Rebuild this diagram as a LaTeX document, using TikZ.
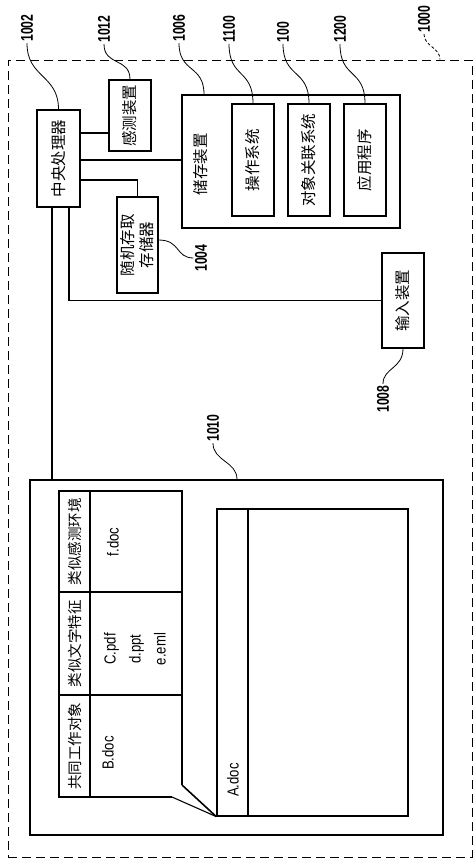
\documentclass[tikz,border=0pt]{standalone}
\usepackage{fontspec}
\setmainfont{Liberation Sans}
\newfontfamily\cjkfont{Noto Sans CJK SC}
\newfontfamily\numfont[FakeStretch=0.72]{Liberation Sans Bold}
\newfontfamily\docfont[FakeStretch=0.82]{Liberation Sans}

\begin{document}
\begin{tikzpicture}[
      x = 1pt, y = -1pt,
      line width = 1.1pt,
      box/.style = {
        draw, rectangle, line width = 1.3pt,
        inner sep = 0
      },
      tag/.style = { rotate = 90, font = {\cjkfont\fontsize{15.5}{19}\selectfont} },
      head/.style = { rotate = 90, font = {\cjkfont\fontsize{14.5}{18}\selectfont} },
      doc/.style = { rotate = 90, font = {\docfont\fontsize{16}{25}\selectfont} },
      num/.style = { rotate = 90, inner sep = 1pt, font = {\numfont\fontsize{17}{20}\selectfont} },
      lead/.style = { line width = 0.8pt },
    ]

    \useasboundingbox (0,0) rectangle (474,860);

    %% system frame
    \node[box, dashed, dash pattern = on 9pt off 5pt, line width = 1pt,
      minimum width = 464pt, minimum height = 797pt] (sys) at (240,458.5) {};

    %% processor and devices
    \node[box, minimum width = 43pt, minimum height = 97pt] (cpu) at (58.5,158.5) {};
    \node[tag] (cpu-t) at (cpu) {中央处理器};

    \node[box, minimum width = 42pt, minimum height = 71pt] (sense) at (130,115.5) {};
    \node[tag] (sense-t) at (sense) {感测装置};

    \node[box, minimum width = 41pt, minimum height = 96pt] (ram) at (137.5,245) {};
    \node[tag, align = center] (ram-t) at (ram) {随机存取\\存储器};

    \node[box, minimum width = 42pt, minimum height = 95pt] (input) at (403,300.5) {};
    \node[tag] (input-t) at (input) {输入装置};

    %% storage with its contents
    \begin{scope}
      \node[box, minimum width = 218pt, minimum height = 133pt] (store) at (291,161.5) {};
      \node[tag] (store-t) at (201,164) {储存装置};
      \foreach \n/\x/\t in {os/253/操作系统, obj/309/对象关联系统, app/365/应用程序} {
        \node[box, minimum width = 42pt, minimum height = 112pt] (\n) at (\x,160) {};
        \node[tag] (\n-t) at (\n) {\t};
      }
    \end{scope}

    %% buses
    \draw (cpu.east |- 0,133) to (sense.west |- 0,133);
    \draw (cpu.east |- 0,160) to (store.west |- 0,160);
    \draw (cpu.east |- 0,180) -| (ram.north);
    \draw (cpu.south -| 69,0) |- (input.west);

    %% display
    \node[box, minimum width = 413pt, minimum height = 355pt] (disp) at (236.5,657.5) {};
    \draw (cpu.south -| 52,0) to (disp.north -| 52,0);

    \node[box, minimum width = 191pt, minimum height = 307pt] (win) at (312.5,662.5) {};
    \draw (248,509) to (248,816);
    \node[doc] (a-doc) at (233,780) {A.doc};

    % result table with its pointer
    \draw (172,797) -- (59,797) -- (59,491) -- (182,491) -- (182,785);
    \draw[line width = 1.6pt] (182,785) to (win.south west);
    \draw (172,797) to (win.south west);
    \draw (90,491) to (90,797);
    \draw (59,592) to (182,592);
    \draw (59,695) to (182,695);

    \node[head] (h-env) at (74.5,541.5) {类似感测环境};
    \node[head] (h-txt) at (74.5,643.5) {类似文字特征};
    \node[head] (h-obj) at (74.5,746) {共同工作对象};
    \node[doc] (f-env) at (113,542) {f.doc};
    \node[doc, align = center] (f-txt) at (135,649) {C.pdf\\d.ppt\\e.eml};
    \node[doc] (f-obj) at (108,753) {B.doc};

    %% reference numerals
    \node[num] (n1002) at (27,28) {1002};
    \node[num] (n1012) at (104,29) {1012};
    \node[num] (n1006) at (179,28) {1006};
    \node[num] (n1100) at (229,29) {1100};
    \node[num] (n100) at (283,32) {100};
    \node[num] (n1200) at (340,29) {1200};
    \node[num] (n1000) at (424,19) {1000};
    \node[num] (n1004) at (201,258) {1004};
    \node[num] (n1008) at (383,399) {1008};
    \node[num] (n1010) at (213,428) {1010};

    \draw[lead] (n1002.west) .. controls +(0,35) and +(0,-35) .. (cpu.north);
    \draw[lead] (n1012.west) .. controls +(0,22) and +(0,-22) .. (sense.north);
    \draw[lead] (n1006.west) .. controls +(0,30) and +(0,-30) .. (store.north -| 204,0);
    \draw[lead] (n1100.west) .. controls +(0,35) and +(0,-35) .. (os.north);
    \draw[lead] (n100.west) .. controls +(0,35) and +(0,-35) .. (obj.north);
    \draw[lead] (n1200.west) .. controls +(0,35) and +(0,-35) .. (app.north);
    \draw[lead, densely dashed] (n1000.west) .. controls +(0,12) and +(0,-12) .. (sys.north -| 440,0);
    \draw[lead] (ram.east |- 0,240) .. controls +(22,0) and +(-18,0) .. (n1004.north);
    \draw[lead] (input.south) .. controls +(0,20) and +(0,-16) .. (n1008.east);
    \draw[lead] (n1010.west) .. controls +(0,18) and +(0,-18) .. (disp.north -| 237,0);
  \end{tikzpicture}
\end{document}
